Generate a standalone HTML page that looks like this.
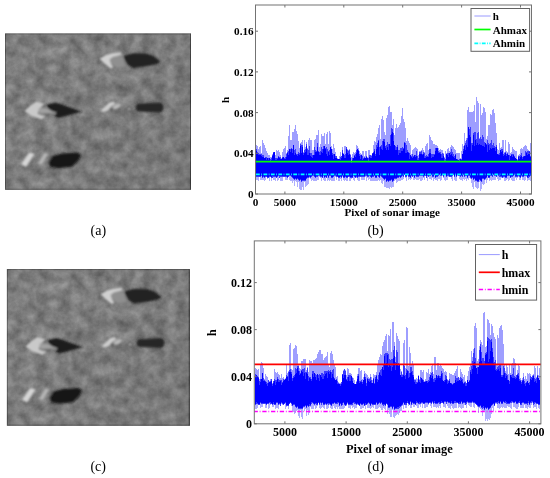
<!DOCTYPE html>
<html><head><meta charset="utf-8"><title>Sonar figure</title>
<style>
html,body{margin:0;padding:0;background:#fff;}
body{width:550px;height:478px;overflow:hidden;}
svg{display:block;}
</style></head><body>
<svg width="550" height="478" viewBox="0 0 550 478">
<rect width="550" height="478" fill="#fff"/>
<defs>
<filter id="tex" x="0" y="0" width="100%" height="100%" color-interpolation-filters="sRGB">
<feTurbulence type="fractalNoise" baseFrequency="0.085" numOctaves="4" seed="5"/>
<feColorMatrix type="matrix" values="0.3 0 0 0 0.345  0.3 0 0 0 0.345  0.3 0 0 0 0.345  0 0 0 0 1"/>
</filter>
<linearGradient id="shade" gradientUnits="userSpaceOnUse" x1="20" y1="40" x2="190" y2="190"><stop offset="0" stop-color="#000" stop-opacity="0"/><stop offset="1" stop-color="#000" stop-opacity="0.06"/></linearGradient>
<filter id="blur1" x="-20%" y="-20%" width="140%" height="140%"><feGaussianBlur stdDeviation="1.1"/></filter>
</defs>
<clipPath id="ca"><rect x="5" y="33.4" width="186" height="156.4"/></clipPath>
<clipPath id="cc"><rect x="5.9" y="33.6" width="183.1" height="156.6"/></clipPath>
<g clip-path="url(#ca)"><g id="scene">
<rect x="0" y="20" width="200" height="185" fill="#838383"/>
<rect x="0" y="20" width="200" height="185" filter="url(#tex)"/>
<rect x="0" y="20" width="200" height="185" fill="url(#shade)"/>
<g filter="url(#blur1)">
<polygon points="104,58 116,55.5 123,57 125.5,66 117,68" fill="#8f8f8f"/>
<polygon points="99.5,58.8 106,55 113,53 120.5,52.3 122,54.8 113,56.8 109.5,59.5 111,64 113.5,67.6 110.5,68.5 104.5,63.5" fill="#d0d0d0"/>
<polygon points="123.6,55.8 133,53.2 146,53.4 153.5,56 160.3,61.5 157.5,63.8 148.5,66 133.2,68 128.1,64.9 124.3,59" fill="#232323"/>
<polygon points="24.5,110.9 30.2,105.8 36.5,101.4 44.2,103.9 39.1,109 37.8,114.1 45.5,116.6 41.6,119.2 31.5,116" fill="#c9c9c9"/>
<polygon points="38.5,108 56.5,108.6 58.5,113 39.5,113.5" fill="#a0a0a0"/>
<polygon points="46.7,104.5 55.6,102.6 62,104.5 70.9,107.7 79.8,110.9 83.6,111.5 74.7,113.5 64.5,116.6 58.2,117.9 54.4,116 56.9,112.8 51.8,110.9 48,108.4" fill="#1f1f1f"/>
<polygon points="100.5,110.6 105,106.5 109,102.4 113.5,101.6 115.5,103.6 111.5,106.5 108,110.6 103.5,112.2" fill="#cdcdcd"/>
<polygon points="112.5,106.5 117.5,103.3 121.8,104.8 118,108.6 113.5,109.5" fill="#b9b9b9"/>
<circle cx="129.1" cy="109" r="1.3" fill="#b0b0b0"/>
<path d="M139,103.6 L160,102.4 Q164,103.3 163.6,107.5 Q163.2,112.6 159,112.6 L139.5,111.6 Q135.6,111 135.7,107.6 Q135.9,104.2 139,103.6 Z" fill="#262626"/>
<polygon points="21,164.2 29.3,152.6 34.6,154 26.2,166.8" fill="#d6d6d6"/>
<polygon points="37.8,163.5 44.3,152.8 48.4,153.8 41.8,165" fill="#b4b4b4"/>
<polygon points="47.2,163.6 51.5,155.5 53.3,156.1 49,164.3" fill="#5a5a5a"/>
<polygon points="48.8,162.5 52.8,156 62,153.6 77,152.5 81,155 78.5,160 72,166.8 58.5,168.3 50.5,166.8" fill="#161616"/>
</g></g><rect x="5.5" y="33.9" width="185" height="155.4" fill="none" stroke="#000" stroke-opacity="0.3" stroke-width="1"/><path d="M190.5 33.4V189.8" stroke="#000" stroke-opacity="0.2"/></g>
<g transform="translate(1 235.5)"><g clip-path="url(#cc)"><use href="#scene"/><rect x="6.4" y="34.1" width="182.1" height="155.6" fill="none" stroke="#000" stroke-opacity="0.3" stroke-width="1"/><path d="M188 33.6V190.2" stroke="#000" stroke-opacity="0.25"/></g></g>
<path d="M256.5 175.5V180.1M257.5 175.5V180.1M258.5 175.9V180.9M259.5 175.7V176.4M260.5 175.7V179.5M261.5 175.3V180.3M262.5 176.8V179.8M263.5 175.5V180.0M264.5 177.1V181.2M265.5 176.2V179.8M266.5 175.7V176.6M267.5 176.7V178.6M268.5 176.6V177.5M269.5 175.6V181.0M270.5 175.9V176.6M271.5 177.1V181.1M272.5 176.4V177.0M273.5 176.4V180.3M274.5 175.7V180.4M275.5 175.8V180.9M276.5 177.0V178.4M277.5 175.8V180.7M278.5 175.4V179.6M279.5 176.4V177.0M280.5 176.0V180.7M281.5 175.7V180.5M282.5 175.8V180.5M283.5 175.6V177.2M284.5 175.8V177.1M285.5 176.0V180.3M286.5 176.4V180.1M287.5 177.4V179.9M288.5 175.7V177.2M289.5 175.0V179.5M290.5 175.2V180.5M291.5 176.3V181.2M292.5 176.8V182.9M293.5 177.6V180.7M294.5 178.6V185.6M295.5 178.0V181.3M296.5 178.7V181.9M297.5 178.0V186.6M298.5 179.4V182.4M299.5 180.4V189.4M300.5 179.0V190.3M301.5 180.6V190.4M302.5 179.7V186.9M303.5 179.8V189.8M304.5 180.0V181.5M305.5 179.8V187.4M306.5 177.8V186.4M307.5 177.2V185.0M308.5 177.2V184.4M309.5 175.7V178.2M310.5 177.0V178.9M311.5 175.9V181.0M312.5 175.2V180.4M313.5 175.0V180.9M314.5 176.4V181.0M315.5 177.1V180.8M316.5 176.0V181.1M317.5 176.4V180.0M318.5 175.0V180.1M319.5 175.3V176.9M320.5 176.1V178.4M321.5 175.7V181.1M322.5 176.7V178.4M323.5 175.2V179.9M324.5 176.8V180.5M325.5 176.0V181.1M326.5 177.4V178.4M327.5 175.2V180.7M328.5 176.6V180.4M329.5 175.1V181.1M330.5 175.4V180.3M331.5 177.0V180.6M332.5 177.3V180.9M333.5 176.3V180.5M334.5 175.1V180.5M335.5 175.1V176.6M336.5 176.3V180.4M337.5 175.8V176.9M338.5 177.1V180.9M339.5 177.0V180.9M340.5 176.2V178.5M341.5 177.1V180.9M342.5 175.3V177.4M343.5 177.0V180.0M344.5 177.1V180.9M345.5 176.0V179.9M346.5 177.1V180.6M347.5 176.6V180.8M348.5 175.5V177.2M349.5 176.0V180.7M350.5 176.6V181.1M351.5 176.8V178.8M352.5 176.7V177.6M353.5 175.1V179.8M354.5 176.4V180.5M355.5 176.8V177.4M356.5 175.7V177.7M357.5 176.6V180.4M358.5 175.6V180.5M359.5 176.3V181.1M360.5 176.4V177.3M361.5 175.5V180.3M362.5 176.3V179.8M363.5 176.3V180.0M364.5 175.7V180.3M365.5 175.2V177.3M366.5 175.3V180.6M367.5 176.2V178.3M368.5 176.1V179.5M369.5 175.0V179.4M370.5 175.6V181.1M371.5 177.4V181.0M372.5 176.4V180.5M373.5 176.2V180.7M374.5 175.4V180.9M375.5 177.4V181.0M376.5 176.5V180.8M377.5 175.0V180.6M378.5 176.4V180.1M379.5 176.8V180.6M380.5 175.0V179.8M381.5 175.6V183.0M382.5 177.4V184.0M383.5 178.2V180.6M384.5 178.5V186.6M385.5 177.9V187.3M386.5 180.5V187.6M387.5 179.6V187.5M388.5 180.8V188.3M389.5 180.4V189.3M390.5 180.2V186.5M391.5 179.3V188.3M392.5 180.6V186.6M393.5 180.2V187.2M394.5 178.3V181.4M395.5 178.1V179.8M396.5 178.2V183.3M397.5 176.5V182.1M398.5 176.7V180.5M399.5 175.8V181.1M400.5 177.1V181.2M401.5 175.8V180.3M402.5 174.7V180.0M403.5 176.0V179.4M404.5 174.2V175.0M405.5 175.6V177.7M406.5 175.6V180.6M407.5 174.3V176.0M408.5 176.0V179.8M409.5 175.8V179.4M410.5 176.5V180.3M411.5 174.8V178.7M412.5 176.1V176.6M413.5 175.3V180.4M414.5 176.6V179.8M415.5 175.0V179.4M416.5 175.8V179.6M417.5 175.6V179.9M418.5 176.0V180.3M419.5 174.6V178.6M420.5 175.2V180.5M421.5 175.2V180.6M422.5 174.7V180.2M423.5 176.1V177.9M424.5 174.8V180.4M425.5 174.7V175.4M426.5 176.4V178.1M427.5 174.4V180.6M428.5 175.6V177.4M429.5 175.1V179.3M430.5 174.7V179.3M431.5 174.2V180.1M432.5 175.9V177.5M433.5 175.9V180.7M434.5 174.4V179.2M435.5 176.6V180.2M436.5 175.8V180.1M437.5 176.3V180.8M438.5 174.7V179.0M439.5 174.4V178.9M440.5 174.6V180.8M441.5 174.6V179.5M442.5 174.3V176.1M443.5 176.2V177.8M444.5 174.1V180.4M445.5 174.3V180.8M446.5 176.0V180.4M447.5 175.3V179.6M448.5 175.3V176.5M449.5 176.1V176.6M450.5 175.9V177.1M451.5 176.0V179.3M452.5 175.0V180.6M453.5 174.3V175.3M454.5 176.3V180.4M455.5 174.2V180.6M456.5 175.9V180.6M457.5 174.4V175.8M458.5 175.1V176.4M459.5 175.1V178.9M460.5 175.6V179.7M461.5 174.8V179.8M462.5 176.0V180.7M463.5 174.3V179.4M464.5 176.0V179.5M465.5 174.8V179.3M466.5 174.6V180.9M467.5 176.5V178.6M468.5 174.8V180.2M469.5 174.9V177.9M470.5 177.4V178.8M471.5 178.1V183.1M472.5 177.3V186.7M473.5 179.2V188.7M474.5 178.2V182.1M475.5 180.0V186.9M476.5 180.2V188.4M477.5 180.7V188.8M478.5 181.3V188.4M479.5 179.2V182.3M480.5 179.5V190.8M481.5 181.0V188.7M482.5 178.4V183.5M483.5 178.0V185.4M484.5 178.9V184.3M485.5 177.9V180.3M486.5 177.3V182.8M487.5 175.1V179.7M488.5 176.5V177.7M489.5 176.5V181.0M490.5 174.5V180.3M491.5 174.9V180.5M492.5 175.6V180.2M493.5 174.2V179.8M494.5 175.3V180.3M495.5 174.9V179.7M496.5 176.2V177.2M497.5 174.3V178.9M498.5 174.9V180.6M499.5 175.4V179.9M500.5 175.9V179.7M501.5 176.0V177.6M502.5 176.5V177.0M503.5 176.0V178.1M504.5 175.5V180.5M505.5 176.5V181.2M506.5 176.7V179.7M507.5 174.5V178.9M508.5 174.7V180.9M509.5 174.9V179.5M510.5 176.7V178.3M511.5 175.7V179.9M512.5 175.7V181.0M513.5 175.3V181.2M514.5 174.4V180.5M515.5 176.1V177.9M516.5 176.0V180.3M517.5 176.1V178.3M518.5 174.6V176.8M519.5 175.8V179.9M520.5 176.5V180.4M521.5 175.3V177.2M522.5 175.5V179.8M523.5 176.4V180.0M524.5 175.4V180.5M525.5 175.0V180.4M526.5 175.3V177.4M527.5 176.7V180.7M528.5 176.4V180.0M529.5 176.1V179.7M530.5 175.0V180.6" stroke="#aeaeff" stroke-width="1" fill="none" shape-rendering="crispEdges"/>
<path d="M256.5 145.2V176.5M257.5 146.1V176.5M258.5 148.5V176.9M259.5 147.1V176.7M260.5 145.7V176.7M261.5 153.3V176.3M262.5 140.4V177.8M263.5 142.7V176.5M264.5 144.8V178.1M265.5 148.4V177.2M266.5 151.0V176.7M267.5 152.7V177.7M268.5 154.6V177.6M269.5 155.1V176.6M270.5 156.8V176.9M271.5 157.1V178.1M272.5 154.1V177.4M273.5 152.1V177.4M274.5 151.6V176.7M275.5 155.2V176.8M276.5 149.6V178.0M277.5 151.3V176.8M278.5 149.9V176.4M279.5 151.7V177.4M280.5 155.0V177.0M281.5 157.5V176.7M282.5 152.0V176.8M283.5 149.3V176.6M284.5 148.3V176.8M285.5 146.1V177.0M286.5 153.3V177.4M287.5 150.4V178.4M288.5 135.8V176.7M289.5 125.2V176.0M290.5 139.6V176.2M291.5 140.2V177.3M292.5 132.2V177.8M293.5 131.7V178.6M294.5 129.2V179.6M295.5 125.3V179.0M296.5 130.5V179.7M297.5 133.7V179.0M298.5 140.6V180.4M299.5 147.9V181.4M300.5 142.8V180.0M301.5 142.3V181.6M302.5 139.6V180.7M303.5 151.8V180.8M304.5 139.9V181.0M305.5 146.6V180.8M306.5 142.1V178.8M307.5 148.1V178.2M308.5 140.3V178.2M309.5 138.0V176.7M310.5 140.0V178.0M311.5 140.1V176.9M312.5 149.5V176.2M313.5 149.5V176.0M314.5 139.8V177.4M315.5 138.5V178.1M316.5 135.0V177.0M317.5 135.1V177.4M318.5 129.8V176.0M319.5 146.7V176.3M320.5 143.7V177.1M321.5 134.0V176.7M322.5 135.7V177.7M323.5 136.1V176.2M324.5 132.9V177.8M325.5 143.5V177.0M326.5 134.0V178.4M327.5 132.2V176.2M328.5 144.4V177.6M329.5 130.5V176.1M330.5 133.0V176.4M331.5 146.2V178.0M332.5 149.3V178.3M333.5 144.2V177.3M334.5 148.3V176.1M335.5 152.1V176.1M336.5 155.7V177.3M337.5 158.4V176.8M338.5 158.7V178.1M339.5 155.5V178.0M340.5 151.7V177.2M341.5 155.7V178.1M342.5 146.7V176.3M343.5 152.6V178.0M344.5 146.3V178.1M345.5 145.6V177.0M346.5 147.1V178.1M347.5 149.1V177.6M348.5 150.0V176.5M349.5 148.9V177.0M350.5 153.7V177.6M351.5 156.7V177.8M352.5 153.6V177.7M353.5 151.6V176.1M354.5 152.7V177.4M355.5 151.5V177.8M356.5 145.4V176.7M357.5 145.6V177.6M358.5 148.1V176.6M359.5 150.9V177.3M360.5 152.5V177.4M361.5 153.5V176.5M362.5 151.2V177.3M363.5 150.7V177.3M364.5 156.1V176.7M365.5 151.3V176.2M366.5 151.2V176.3M367.5 156.7V177.2M368.5 150.1V177.1M369.5 149.9V176.0M370.5 154.8V176.6M371.5 154.6V178.4M372.5 152.5V177.4M373.5 145.4V177.2M374.5 141.4V176.4M375.5 141.9V178.4M376.5 137.2V177.5M377.5 133.7V176.0M378.5 128.3V177.4M379.5 124.6V177.8M380.5 138.9V176.0M381.5 118.8V176.6M382.5 116.2V178.4M383.5 120.1V179.2M384.5 132.4V179.5M385.5 134.7V178.9M386.5 118.4V181.5M387.5 114.8V180.6M388.5 106.5V181.8M389.5 106.0V181.4M390.5 111.9V181.2M391.5 111.9V180.3M392.5 125.0V181.6M393.5 119.2V181.2M394.5 135.2V179.3M395.5 127.7V179.1M396.5 123.9V179.2M397.5 127.7V177.5M398.5 126.9V177.7M399.5 125.1V176.8M400.5 122.6V178.1M401.5 115.9V176.8M402.5 108.3V175.7M403.5 119.1V177.0M404.5 122.1V175.2M405.5 127.5V176.6M406.5 140.5V176.6M407.5 137.8V175.3M408.5 141.3V177.0M409.5 142.8V176.8M410.5 145.1V177.5M411.5 154.1V175.8M412.5 149.5V177.1M413.5 149.3V176.3M414.5 147.7V177.6M415.5 147.2V176.0M416.5 148.0V176.8M417.5 149.4V176.6M418.5 155.2V177.0M419.5 151.2V175.6M420.5 150.8V176.2M421.5 150.4V176.2M422.5 148.1V175.7M423.5 150.3V177.1M424.5 152.3V175.8M425.5 146.1V175.7M426.5 143.6V177.4M427.5 143.0V175.4M428.5 149.5V176.6M429.5 135.2V176.1M430.5 136.5V175.7M431.5 140.4V175.2M432.5 141.1V176.9M433.5 144.4V176.9M434.5 144.3V175.4M435.5 144.5V177.6M436.5 145.1V176.8M437.5 146.1V177.3M438.5 147.5V175.7M439.5 150.3V175.4M440.5 148.5V175.6M441.5 149.8V175.6M442.5 150.3V175.3M443.5 153.0V177.2M444.5 156.5V175.1M445.5 150.5V175.3M446.5 153.0V177.0M447.5 149.2V176.3M448.5 147.5V176.3M449.5 150.6V177.1M450.5 146.8V176.9M451.5 144.8V177.0M452.5 146.2V176.0M453.5 147.4V175.3M454.5 149.1V177.3M455.5 150.3V175.2M456.5 153.0V176.9M457.5 152.7V175.4M458.5 153.0V176.1M459.5 153.1V176.1M460.5 158.3V176.6M461.5 151.1V175.8M462.5 144.3V177.0M463.5 145.7V175.3M464.5 132.7V177.0M465.5 141.0V175.8M466.5 138.3V175.6M467.5 109.7V177.5M468.5 106.6V175.8M469.5 112.1V175.9M470.5 112.4V178.4M471.5 111.5V179.1M472.5 112.2V178.3M473.5 110.5V180.2M474.5 105.4V179.2M475.5 122.2V181.0M476.5 97.3V181.2M477.5 100.5V181.7M478.5 102.8V182.3M479.5 138.0V180.2M480.5 103.8V180.5M481.5 114.6V182.0M482.5 112.7V179.4M483.5 107.1V179.0M484.5 108.3V179.9M485.5 111.8V178.9M486.5 139.3V178.3M487.5 135.9V176.1M488.5 125.4V177.5M489.5 124.6V177.5M490.5 113.7V175.5M491.5 115.2V175.9M492.5 109.7V176.6M493.5 108.7V175.2M494.5 112.7V176.3M495.5 122.8V175.9M496.5 132.8V177.2M497.5 149.3V175.3M498.5 150.0V175.9M499.5 142.7V176.4M500.5 147.5V176.9M501.5 146.7V177.0M502.5 139.7V177.5M503.5 140.1V177.0M504.5 151.5V176.5M505.5 140.4V177.5M506.5 151.4V177.7M507.5 151.8V175.5M508.5 142.0V175.7M509.5 144.2V175.9M510.5 153.2V177.7M511.5 152.0V176.7M512.5 146.9V176.7M513.5 149.0V176.3M514.5 150.0V175.4M515.5 150.8V177.1M516.5 151.0V177.0M517.5 158.9V177.1M518.5 154.9V175.6M519.5 154.4V176.8M520.5 149.2V177.5M521.5 147.8V176.3M522.5 149.2V176.5M523.5 146.8V177.4M524.5 145.6V176.4M525.5 144.6V176.0M526.5 145.6V176.3M527.5 148.8V177.7M528.5 150.2V177.4M529.5 151.1V177.1M530.5 143.2V176.0" stroke="#9e9eff" stroke-width="1" fill="none" shape-rendering="crispEdges"/>
<path d="M256.5 149.3V176.5M257.5 151.7V176.6M258.5 153.1V176.9M259.5 153.6V176.7M260.5 153.8V176.7M261.5 153.9V176.3M262.5 155.1V177.8M263.5 154.5V176.5M264.5 157.6V178.1M265.5 156.6V177.2M266.5 156.8V176.7M267.5 158.1V177.7M268.5 157.5V177.6M269.5 157.9V176.7M270.5 158.6V176.9M271.5 157.9V178.2M272.5 154.8V177.5M273.5 152.4V177.4M274.5 152.0V176.7M275.5 157.6V176.8M276.5 158.2V178.0M277.5 157.9V176.8M278.5 155.6V176.4M279.5 157.1V177.5M280.5 156.6V177.0M281.5 158.5V176.7M282.5 157.4V176.8M283.5 156.6V176.6M284.5 158.4V176.8M285.5 157.0V177.0M286.5 154.1V177.4M287.5 152.2V178.4M288.5 150.6V176.7M289.5 148.7V176.1M290.5 148.5V176.2M291.5 148.2V177.3M292.5 149.1V177.8M293.5 144.7V178.6M294.5 149.5V179.6M295.5 148.8V179.0M296.5 154.2V179.7M297.5 154.0V179.0M298.5 151.8V180.4M299.5 153.1V181.4M300.5 144.2V180.0M301.5 144.7V181.6M302.5 144.6V180.8M303.5 153.4V180.8M304.5 149.6V181.0M305.5 149.0V180.8M306.5 143.8V178.9M307.5 148.8V178.2M308.5 149.5V178.3M309.5 146.4V176.7M310.5 153.0V178.1M311.5 153.4V176.9M312.5 154.8V176.2M313.5 154.9V176.0M314.5 147.3V177.4M315.5 149.8V178.2M316.5 150.6V177.0M317.5 143.2V177.4M318.5 150.7V176.0M319.5 151.7V176.4M320.5 151.0V177.1M321.5 147.2V176.7M322.5 148.6V177.7M323.5 146.1V176.2M324.5 145.7V177.9M325.5 147.9V177.1M326.5 147.4V178.4M327.5 149.0V176.2M328.5 150.5V177.6M329.5 149.5V176.2M330.5 146.9V176.4M331.5 148.8V178.1M332.5 153.1V178.3M333.5 153.7V177.3M334.5 154.2V176.2M335.5 155.8V176.1M336.5 156.4V177.3M337.5 158.5V176.9M338.5 158.9V178.2M339.5 158.8V178.0M340.5 156.6V177.2M341.5 155.9V178.1M342.5 150.4V176.3M343.5 154.3V178.0M344.5 155.1V178.1M345.5 154.4V177.0M346.5 147.2V178.1M347.5 150.0V177.6M348.5 151.2V176.5M349.5 150.4V177.0M350.5 154.9V177.6M351.5 161.8V177.8M352.5 158.2V177.8M353.5 157.8V176.1M354.5 154.7V177.4M355.5 154.1V177.9M356.5 149.5V176.7M357.5 148.7V177.6M358.5 149.6V176.6M359.5 153.9V177.3M360.5 155.0V177.4M361.5 155.1V176.5M362.5 155.5V177.3M363.5 157.7V177.3M364.5 156.5V176.7M365.5 157.9V176.2M366.5 155.8V176.3M367.5 158.1V177.2M368.5 158.3V177.1M369.5 155.4V176.0M370.5 155.0V176.6M371.5 155.6V178.4M372.5 153.2V177.4M373.5 151.9V177.2M374.5 149.0V176.4M375.5 153.8V178.4M376.5 144.8V177.5M377.5 142.7V176.0M378.5 140.1V177.4M379.5 146.6V177.8M380.5 145.7V176.0M381.5 144.8V176.6M382.5 141.2V178.4M383.5 138.7V179.2M384.5 138.9V179.5M385.5 145.6V178.9M386.5 144.8V181.5M387.5 142.3V180.6M388.5 143.5V181.8M389.5 143.7V181.4M390.5 134.6V181.2M391.5 128.2V180.3M392.5 129.1V181.6M393.5 132.9V181.2M394.5 144.9V179.3M395.5 146.4V179.1M396.5 147.2V179.2M397.5 145.0V177.5M398.5 150.2V177.7M399.5 149.5V176.8M400.5 148.0V178.1M401.5 147.5V176.8M402.5 147.1V175.7M403.5 147.7V177.0M404.5 141.9V175.2M405.5 143.4V176.6M406.5 144.5V176.6M407.5 149.7V175.3M408.5 151.9V177.0M409.5 152.8V176.8M410.5 155.0V177.5M411.5 156.2V175.8M412.5 153.9V177.1M413.5 156.4V176.3M414.5 155.1V177.6M415.5 154.9V176.0M416.5 150.5V176.8M417.5 156.4V176.6M418.5 157.8V177.1M419.5 152.4V175.6M420.5 152.1V176.2M421.5 151.1V176.2M422.5 153.9V175.7M423.5 152.2V177.1M424.5 153.2V175.8M425.5 156.1V175.7M426.5 154.6V177.5M427.5 156.0V175.5M428.5 154.4V176.7M429.5 148.6V176.1M430.5 148.9V175.7M431.5 154.4V175.2M432.5 154.3V176.9M433.5 153.8V176.9M434.5 154.4V175.4M435.5 148.1V177.6M436.5 147.6V176.8M437.5 148.2V177.3M438.5 150.7V175.7M439.5 152.1V175.4M440.5 151.9V175.6M441.5 153.5V175.6M442.5 153.3V175.3M443.5 153.5V177.2M444.5 157.8V175.2M445.5 158.8V175.3M446.5 153.5V177.1M447.5 153.4V176.3M448.5 153.0V176.3M449.5 152.6V177.1M450.5 151.5V176.9M451.5 149.4V177.0M452.5 151.9V176.0M453.5 153.8V175.3M454.5 155.5V177.3M455.5 153.9V175.2M456.5 159.3V176.9M457.5 158.6V175.4M458.5 160.0V176.2M459.5 158.8V176.2M460.5 158.5V176.6M461.5 159.4V175.8M462.5 153.6V177.0M463.5 149.0V175.3M464.5 144.6V177.0M465.5 142.5V175.8M466.5 140.3V175.7M467.5 138.3V177.5M468.5 126.8V175.9M469.5 128.5V175.9M470.5 127.4V178.4M471.5 142.7V179.1M472.5 142.9V178.4M473.5 132.5V180.2M474.5 132.1V179.2M475.5 132.1V181.0M476.5 139.3V181.2M477.5 132.7V181.7M478.5 131.8V182.3M479.5 138.9V180.3M480.5 137.4V180.5M481.5 139.1V182.0M482.5 135.0V179.4M483.5 136.5V179.0M484.5 142.0V179.9M485.5 143.3V178.9M486.5 144.4V178.3M487.5 140.1V176.2M488.5 142.9V177.5M489.5 143.5V177.5M490.5 142.8V175.5M491.5 140.4V175.9M492.5 144.8V176.7M493.5 142.7V175.2M494.5 145.7V176.4M495.5 146.6V175.9M496.5 145.1V177.2M497.5 153.9V175.3M498.5 153.9V175.9M499.5 153.4V176.5M500.5 149.5V176.9M501.5 149.4V177.0M502.5 148.5V177.5M503.5 153.7V177.0M504.5 152.5V176.5M505.5 152.1V177.5M506.5 153.9V177.7M507.5 153.3V175.5M508.5 154.5V175.7M509.5 155.2V176.0M510.5 156.4V177.8M511.5 153.6V176.7M512.5 154.0V176.7M513.5 154.1V176.3M514.5 155.5V175.4M515.5 157.7V177.1M516.5 159.0V177.0M517.5 159.9V177.1M518.5 156.2V175.6M519.5 155.9V176.8M520.5 155.2V177.6M521.5 153.4V176.3M522.5 157.4V176.5M523.5 155.5V177.4M524.5 155.8V176.4M525.5 150.6V176.0M526.5 151.7V176.3M527.5 151.2V177.7M528.5 150.9V177.5M529.5 151.2V177.1M530.5 155.7V176.0" stroke="#3a3aff" stroke-width="1" fill="none" shape-rendering="crispEdges"/>
<path d="M256.5 150.9V175.5M257.5 152.9V175.5M258.5 155.2V175.9M259.5 155.1V175.7M260.5 154.7V175.7M261.5 156.0V175.3M262.5 156.7V176.8M263.5 156.6V175.5M264.5 157.6V177.1M265.5 157.5V176.2M266.5 159.7V175.7M267.5 158.1V176.7M268.5 159.9V176.6M269.5 157.9V175.6M270.5 160.9V175.9M271.5 159.5V177.1M272.5 156.1V176.4M273.5 152.5V176.4M274.5 152.0V175.7M275.5 160.3V175.8M276.5 160.1V177.0M277.5 158.6V175.8M278.5 156.5V175.4M279.5 158.2V176.4M280.5 159.0V176.0M281.5 159.0V175.7M282.5 158.4V175.8M283.5 156.6V175.6M284.5 158.9V175.8M285.5 158.8V176.0M286.5 156.6V176.4M287.5 153.2V177.4M288.5 154.9V175.7M289.5 149.3V175.0M290.5 152.4V175.2M291.5 148.8V176.3M292.5 153.1V176.8M293.5 144.7V177.6M294.5 154.6V178.6M295.5 152.7V178.0M296.5 154.5V178.7M297.5 156.3V178.0M298.5 153.5V179.4M299.5 155.2V180.4M300.5 146.0V179.0M301.5 152.9V180.6M302.5 147.2V179.7M303.5 154.8V179.8M304.5 152.6V180.0M305.5 152.4V179.8M306.5 146.0V177.8M307.5 155.1V177.2M308.5 154.9V177.2M309.5 153.3V175.7M310.5 155.5V177.0M311.5 156.7V175.9M312.5 157.6V175.2M313.5 154.9V175.0M314.5 154.5V176.4M315.5 152.0V177.1M316.5 152.4V176.0M317.5 147.4V176.4M318.5 152.2V175.0M319.5 155.4V175.3M320.5 155.4V176.1M321.5 151.7V175.7M322.5 153.4V176.7M323.5 149.4V175.2M324.5 145.8V176.8M325.5 148.6V176.0M326.5 154.1V177.4M327.5 156.2V175.2M328.5 151.5V176.6M329.5 154.8V175.1M330.5 147.0V175.4M331.5 149.0V177.0M332.5 154.7V177.3M333.5 158.9V176.3M334.5 154.2V175.1M335.5 158.2V175.1M336.5 158.4V176.3M337.5 158.7V175.8M338.5 159.4V177.1M339.5 158.8V177.0M340.5 159.5V176.2M341.5 157.5V177.1M342.5 153.4V175.3M343.5 154.3V177.0M344.5 157.7V177.1M345.5 157.8V176.0M346.5 149.4V177.1M347.5 152.8V176.6M348.5 154.5V175.5M349.5 153.8V176.0M350.5 158.0V176.6M351.5 162.9V176.8M352.5 160.1V176.7M353.5 157.8V175.1M354.5 156.0V176.4M355.5 156.9V176.8M356.5 153.3V175.7M357.5 148.8V176.6M358.5 150.8V175.6M359.5 155.8V176.3M360.5 159.0V176.4M361.5 155.4V175.5M362.5 159.5V176.3M363.5 159.4V176.3M364.5 157.7V175.7M365.5 157.9V175.2M366.5 156.8V175.3M367.5 158.1V176.2M368.5 160.8V176.1M369.5 157.1V175.0M370.5 157.5V175.6M371.5 158.0V177.4M372.5 154.2V176.4M373.5 152.6V176.2M374.5 150.7V175.4M375.5 155.5V177.4M376.5 148.7V176.5M377.5 146.7V175.0M378.5 141.4V176.4M379.5 155.1V176.8M380.5 146.6V175.0M381.5 149.2V175.6M382.5 149.8V177.4M383.5 141.3V178.2M384.5 141.8V178.5M385.5 148.1V177.9M386.5 150.0V180.5M387.5 146.8V179.6M388.5 149.5V180.8M389.5 144.3V180.4M390.5 145.8V180.2M391.5 134.0V179.3M392.5 132.4V180.6M393.5 140.9V180.2M394.5 145.4V178.3M395.5 149.6V178.1M396.5 150.3V178.2M397.5 146.7V176.5M398.5 155.0V176.7M399.5 153.1V175.8M400.5 152.5V177.1M401.5 150.6V175.8M402.5 151.2V174.7M403.5 149.4V176.0M404.5 143.3V174.2M405.5 153.0V175.6M406.5 153.0V175.6M407.5 151.6V174.3M408.5 153.1V176.0M409.5 158.5V175.8M410.5 155.3V176.5M411.5 156.9V174.8M412.5 158.3V176.1M413.5 156.6V175.3M414.5 155.4V176.6M415.5 157.3V175.0M416.5 156.2V175.8M417.5 159.5V175.6M418.5 159.5V176.0M419.5 154.0V174.6M420.5 154.4V175.2M421.5 153.6V175.2M422.5 155.2V174.7M423.5 154.0V176.1M424.5 158.3V174.8M425.5 157.8V174.7M426.5 156.9V176.4M427.5 156.8V174.4M428.5 156.7V175.6M429.5 153.1V175.1M430.5 152.8V174.7M431.5 157.5V174.2M432.5 156.6V175.9M433.5 157.3V175.9M434.5 155.0V174.4M435.5 150.8V176.6M436.5 148.0V175.8M437.5 148.2V176.3M438.5 153.2V174.7M439.5 153.2V174.4M440.5 153.9V174.6M441.5 158.3V174.6M442.5 158.1V174.3M443.5 155.7V176.2M444.5 161.0V174.1M445.5 161.0V174.3M446.5 154.4V176.0M447.5 155.4V175.3M448.5 157.4V175.3M449.5 153.1V176.1M450.5 155.3V175.9M451.5 153.8V176.0M452.5 155.8V175.0M453.5 156.9V174.3M454.5 157.7V176.3M455.5 155.4V174.2M456.5 159.3V175.9M457.5 159.6V174.4M458.5 160.0V175.1M459.5 161.0V175.1M460.5 158.9V175.6M461.5 160.1V174.8M462.5 154.1V176.0M463.5 151.2V174.3M464.5 146.0V176.0M465.5 150.2V174.8M466.5 144.9V174.6M467.5 146.9V176.5M468.5 127.4V174.8M469.5 135.4V174.9M470.5 136.6V177.4M471.5 150.7V178.1M472.5 145.2V177.3M473.5 134.7V179.2M474.5 145.8V178.2M475.5 140.1V180.0M476.5 145.2V180.2M477.5 143.2V180.7M478.5 144.9V181.3M479.5 144.1V179.2M480.5 145.3V179.5M481.5 145.2V181.0M482.5 145.9V178.4M483.5 145.6V178.0M484.5 146.6V178.9M485.5 143.3V177.9M486.5 144.7V177.3M487.5 151.5V175.1M488.5 144.8V176.5M489.5 149.7V176.5M490.5 147.5V174.5M491.5 149.1V174.9M492.5 147.8V175.6M493.5 148.2V174.2M494.5 148.1V175.3M495.5 151.0V174.9M496.5 146.5V176.2M497.5 153.9V174.3M498.5 155.0V174.9M499.5 155.2V175.4M500.5 150.4V175.9M501.5 152.3V176.0M502.5 150.6V176.5M503.5 156.2V176.0M504.5 154.9V175.5M505.5 152.5V176.5M506.5 156.2V176.7M507.5 154.4V174.5M508.5 154.8V174.7M509.5 159.5V174.9M510.5 156.4V176.7M511.5 154.8V175.7M512.5 156.9V175.7M513.5 155.3V175.3M514.5 157.2V174.4M515.5 158.1V176.1M516.5 159.0V176.0M517.5 160.5V176.1M518.5 156.9V174.6M519.5 158.9V175.8M520.5 156.9V176.5M521.5 156.3V175.3M522.5 158.6V175.5M523.5 157.0V176.4M524.5 156.2V175.4M525.5 156.2V175.0M526.5 153.4V175.3M527.5 154.5V176.7M528.5 154.4V176.4M529.5 152.2V176.1M530.5 157.4V175.0" stroke="#0000ff" stroke-width="1" fill="none" shape-rendering="crispEdges"/>
<path d="M255.5 161.6H531.5" stroke="#00ff00" stroke-width="1.7"/>
<path d="M255.5 174.3H531.5" stroke="#00ffff" stroke-width="1.8" stroke-dasharray="3.8 1.45 0.8 1.4" stroke-dashoffset="6.95"/>
<rect x="255.5" y="5.0" width="276.0" height="189.0" fill="none" stroke="#737373" stroke-width="1"/>
<path d="M255.5 194.0h2.5M531.5 194.0h-2.5" stroke="#737373" stroke-width="1"/>
<text x="253.7" y="198.0" text-anchor="end" font-size="11.2" font-family="'Liberation Serif', 'Times New Roman', serif" font-weight="bold">0</text>
<path d="M255.5 153.3h2.5M531.5 153.3h-2.5" stroke="#737373" stroke-width="1"/>
<text x="253.7" y="157.3" text-anchor="end" font-size="11.2" font-family="'Liberation Serif', 'Times New Roman', serif" font-weight="bold">0.04</text>
<path d="M255.5 112.6h2.5M531.5 112.6h-2.5" stroke="#737373" stroke-width="1"/>
<text x="253.7" y="116.6" text-anchor="end" font-size="11.2" font-family="'Liberation Serif', 'Times New Roman', serif" font-weight="bold">0.08</text>
<path d="M255.5 71.9h2.5M531.5 71.9h-2.5" stroke="#737373" stroke-width="1"/>
<text x="253.7" y="75.9" text-anchor="end" font-size="11.2" font-family="'Liberation Serif', 'Times New Roman', serif" font-weight="bold">0.12</text>
<path d="M255.5 31.2h2.5M531.5 31.2h-2.5" stroke="#737373" stroke-width="1"/>
<text x="253.7" y="35.2" text-anchor="end" font-size="11.2" font-family="'Liberation Serif', 'Times New Roman', serif" font-weight="bold">0.16</text>
<path d="M255.5 194.0v-2.5M255.5 5.0v2.5" stroke="#737373" stroke-width="1"/>
<text x="255.5" y="205.5" text-anchor="middle" font-size="11.2" font-family="'Liberation Serif', 'Times New Roman', serif" font-weight="bold">0</text>
<path d="M284.9 194.0v-2.5M284.9 5.0v2.5" stroke="#737373" stroke-width="1"/>
<text x="284.9" y="205.5" text-anchor="middle" font-size="11.2" font-family="'Liberation Serif', 'Times New Roman', serif" font-weight="bold">5000</text>
<path d="M343.8 194.0v-2.5M343.8 5.0v2.5" stroke="#737373" stroke-width="1"/>
<text x="343.8" y="205.5" text-anchor="middle" font-size="11.2" font-family="'Liberation Serif', 'Times New Roman', serif" font-weight="bold">15000</text>
<path d="M402.7 194.0v-2.5M402.7 5.0v2.5" stroke="#737373" stroke-width="1"/>
<text x="402.7" y="205.5" text-anchor="middle" font-size="11.2" font-family="'Liberation Serif', 'Times New Roman', serif" font-weight="bold">25000</text>
<path d="M461.6 194.0v-2.5M461.6 5.0v2.5" stroke="#737373" stroke-width="1"/>
<text x="461.6" y="205.5" text-anchor="middle" font-size="11.2" font-family="'Liberation Serif', 'Times New Roman', serif" font-weight="bold">35000</text>
<path d="M520.5 194.0v-2.5M520.5 5.0v2.5" stroke="#737373" stroke-width="1"/>
<text x="520.5" y="205.5" text-anchor="middle" font-size="11.2" font-family="'Liberation Serif', 'Times New Roman', serif" font-weight="bold">45000</text>
<rect x="471.0" y="8.5" width="58.60000000000002" height="42.8" fill="#fff" stroke="#626262" stroke-width="1"/>
<path d="M474.4 16H490.6" stroke="#9a9aff" stroke-width="1"/>
<text x="492.7" y="20.0" font-size="11" font-family="'Liberation Serif', 'Times New Roman', serif" font-weight="bold">h</text>
<path d="M474.4 29.5H490.6" stroke="#00ff00" stroke-width="1.7"/>
<text x="492.7" y="33.5" font-size="11" font-family="'Liberation Serif', 'Times New Roman', serif" font-weight="bold">Ahmax</text>
<path d="M474.4 43.4H490.6" stroke="#00ffff" stroke-width="1.8" stroke-dasharray="3.8 1.45 0.8 1.4"/>
<text x="492.7" y="47.4" font-size="11" font-family="'Liberation Serif', 'Times New Roman', serif" font-weight="bold">Ahmin</text>
<text x="392.2" y="216.4" text-anchor="middle" font-size="11.1" font-family="'Liberation Serif', 'Times New Roman', serif" font-weight="bold">Pixel of sonar image</text>
<text transform="translate(229.1 99.9) rotate(-90)" text-anchor="middle" font-size="11.2" font-family="'Liberation Serif', 'Times New Roman', serif" font-weight="bold">h</text>
<path d="M255.5 404.2V408.8M256.5 402.4V408.5M257.5 402.5V407.5M258.5 403.8V405.3M259.5 403.9V405.4M260.5 401.8V407.9M261.5 403.1V407.4M262.5 403.2V407.1M263.5 402.7V403.9M264.5 402.5V403.3M265.5 402.5V408.0M266.5 403.7V408.0M267.5 403.2V403.8M268.5 402.8V408.8M269.5 402.1V408.0M270.5 402.4V405.1M271.5 402.6V403.9M272.5 403.6V407.4M273.5 402.4V406.9M274.5 403.6V404.7M275.5 404.0V408.9M276.5 401.7V407.8M277.5 402.0V407.5M278.5 403.6V408.7M279.5 402.8V404.6M280.5 404.4V405.5M281.5 401.7V404.2M282.5 402.5V405.0M283.5 403.6V404.6M284.5 402.9V403.8M285.5 401.8V408.6M286.5 404.6V406.5M287.5 404.6V406.2M288.5 404.6V408.9M289.5 402.9V403.9M290.5 402.2V403.4M291.5 402.5V405.7M292.5 404.7V411.2M293.5 403.8V411.7M294.5 403.7V413.7M295.5 405.8V412.5M296.5 407.1V410.9M297.5 406.0V409.7M298.5 407.6V416.2M299.5 407.5V417.6M300.5 407.8V409.8M301.5 407.5V417.4M302.5 408.1V419.3M303.5 405.7V408.1M304.5 405.9V411.3M305.5 405.2V408.7M306.5 406.9V415.8M307.5 404.8V410.1M308.5 405.8V414.5M309.5 404.3V413.1M310.5 405.2V406.6M311.5 402.4V408.9M312.5 402.3V409.0M313.5 403.1V409.1M314.5 403.8V405.6M315.5 403.0V409.3M316.5 403.4V408.4M317.5 403.5V406.2M318.5 401.9V403.0M319.5 404.0V408.2M320.5 402.2V409.2M321.5 403.4V407.8M322.5 402.1V407.4M323.5 403.6V407.8M324.5 403.8V409.0M325.5 402.7V404.8M326.5 403.5V408.5M327.5 402.5V409.2M328.5 403.4V407.8M329.5 403.1V405.3M330.5 404.2V408.1M331.5 404.7V408.5M332.5 402.6V409.2M333.5 402.8V405.6M334.5 402.2V407.6M335.5 403.1V409.0M336.5 402.8V407.3M337.5 402.3V408.9M338.5 402.2V407.3M339.5 404.5V408.5M340.5 403.2V409.2M341.5 404.5V408.7M342.5 403.3V409.1M343.5 402.0V408.9M344.5 404.2V407.7M345.5 404.6V405.9M346.5 404.2V405.7M347.5 402.1V403.7M348.5 403.9V407.9M349.5 403.7V407.9M350.5 404.2V409.0M351.5 404.0V406.1M352.5 403.3V408.1M353.5 402.0V406.7M354.5 402.4V408.8M355.5 402.8V408.2M356.5 403.8V407.6M357.5 402.5V404.7M358.5 404.1V405.2M359.5 404.5V406.2M360.5 402.8V408.5M361.5 404.2V408.7M362.5 403.6V408.4M363.5 402.6V408.4M364.5 404.5V405.1M365.5 403.3V408.9M366.5 403.5V404.4M367.5 402.5V407.9M368.5 402.1V407.8M369.5 403.1V408.2M370.5 404.6V408.8M371.5 403.1V407.5M372.5 404.0V407.4M373.5 403.5V408.2M374.5 403.5V404.7M375.5 404.2V408.6M376.5 401.9V408.5M377.5 404.0V408.9M378.5 402.5V407.8M379.5 401.9V406.8M380.5 402.9V408.4M381.5 401.8V409.5M382.5 403.7V409.7M383.5 404.4V408.4M384.5 403.5V408.7M385.5 404.5V410.0M386.5 403.1V404.1M387.5 404.1V413.7M388.5 407.1V410.0M389.5 407.0V414.0M390.5 406.3V416.7M391.5 406.0V416.9M392.5 408.1V410.2M393.5 406.2V417.1M394.5 408.9V418.3M395.5 407.7V416.4M396.5 407.8V415.4M397.5 407.3V413.9M398.5 407.3V414.8M399.5 406.4V413.2M400.5 405.8V411.2M401.5 404.6V410.8M402.5 404.2V406.0M403.5 402.0V408.7M404.5 404.1V405.3M405.5 403.4V408.2M406.5 403.3V408.3M407.5 401.3V402.2M408.5 403.1V405.6M409.5 403.5V404.2M410.5 401.0V408.4M411.5 403.7V407.6M412.5 402.3V404.7M413.5 402.5V406.6M414.5 402.5V406.8M415.5 403.5V404.3M416.5 401.4V406.4M417.5 402.1V407.7M418.5 402.8V407.9M419.5 402.4V404.7M420.5 402.7V406.6M421.5 402.2V404.1M422.5 402.1V408.4M423.5 402.6V403.8M424.5 402.7V408.0M425.5 401.7V407.8M426.5 401.6V406.7M427.5 401.8V406.9M428.5 402.7V404.5M429.5 402.1V402.8M430.5 401.6V406.2M431.5 402.8V408.2M432.5 401.2V402.8M433.5 402.6V407.1M434.5 401.4V406.7M435.5 402.5V407.2M436.5 403.0V407.5M437.5 402.5V406.8M438.5 401.8V408.1M439.5 402.4V406.4M440.5 403.0V407.9M441.5 401.4V402.3M442.5 402.2V403.0M443.5 402.7V407.0M444.5 400.9V406.9M445.5 400.9V407.5M446.5 402.3V403.2M447.5 400.8V405.8M448.5 401.6V407.7M449.5 401.9V408.2M450.5 402.9V408.5M451.5 401.3V406.3M452.5 402.7V408.2M453.5 402.5V408.5M454.5 401.3V407.8M455.5 401.3V408.0M456.5 402.2V407.7M457.5 401.7V402.8M458.5 402.8V408.1M459.5 402.3V406.5M460.5 403.1V408.2M461.5 400.8V408.5M462.5 403.2V408.4M463.5 401.9V407.8M464.5 402.2V405.0M465.5 403.4V404.3M466.5 402.4V407.7M467.5 400.9V402.6M468.5 401.7V404.8M469.5 401.6V406.3M470.5 401.7V406.9M471.5 401.5V406.8M472.5 401.1V402.9M473.5 401.8V406.8M474.5 402.1V407.8M475.5 402.5V403.8M476.5 403.6V404.3M477.5 404.9V406.8M478.5 405.5V413.4M479.5 405.8V407.9M480.5 405.1V408.5M481.5 406.5V410.1M482.5 407.3V415.8M483.5 406.3V411.1M484.5 408.8V410.5M485.5 407.0V420.8M486.5 407.7V419.0M487.5 407.2V420.6M488.5 408.5V419.1M489.5 408.3V419.5M490.5 406.7V417.9M491.5 404.8V413.5M492.5 403.7V408.0M493.5 402.8V410.9M494.5 404.5V406.2M495.5 401.8V403.6M496.5 402.0V403.9M497.5 402.4V407.9M498.5 401.4V408.4M499.5 403.0V408.9M500.5 401.2V408.1M501.5 403.2V407.1M502.5 403.2V407.9M503.5 401.1V406.9M504.5 401.8V407.8M505.5 401.3V407.7M506.5 402.3V408.0M507.5 403.2V405.6M508.5 402.5V406.8M509.5 402.5V407.2M510.5 401.9V408.2M511.5 401.3V408.6M512.5 401.0V403.4M513.5 401.8V407.0M514.5 402.1V406.9M515.5 401.0V408.0M516.5 402.5V408.7M517.5 402.6V408.8M518.5 402.1V406.9M519.5 401.3V402.1M520.5 403.5V408.4M521.5 403.3V407.9M522.5 401.7V408.0M523.5 401.6V407.5M524.5 402.9V404.5M525.5 402.9V408.0M526.5 402.7V407.8M527.5 403.4V408.5M528.5 401.4V407.3M529.5 403.9V407.5M530.5 401.6V408.4M531.5 401.4V404.5M532.5 401.2V402.7M533.5 403.3V407.8M534.5 402.3V407.2M535.5 401.6V407.2M536.5 403.0V408.6M537.5 402.6V404.0M538.5 403.6V408.4M539.5 403.9V408.6" stroke="#aeaeff" stroke-width="1" fill="none" shape-rendering="crispEdges"/>
<path d="M255.5 367.9V405.2M256.5 369.0V403.4M257.5 369.7V403.5M258.5 369.0V404.8M259.5 379.0V404.9M260.5 364.6V402.8M261.5 361.9V404.1M262.5 362.6V404.2M263.5 368.0V403.7M264.5 378.5V403.5M265.5 373.8V403.5M266.5 375.8V404.7M267.5 376.9V404.2M268.5 379.5V403.8M269.5 381.4V403.1M270.5 379.3V403.4M271.5 379.2V403.6M272.5 382.9V404.6M273.5 380.9V403.4M274.5 369.4V404.6M275.5 371.8V405.0M276.5 372.6V402.7M277.5 372.2V403.0M278.5 374.2V404.6M279.5 375.4V403.8M280.5 378.3V405.4M281.5 373.5V402.7M282.5 378.3V403.5M283.5 376.7V404.6M284.5 378.9V403.9M285.5 377.7V402.8M286.5 363.5V405.6M287.5 373.0V405.6M288.5 371.0V405.6M289.5 344.8V403.9M290.5 343.3V403.2M291.5 368.5V403.5M292.5 369.9V405.7M293.5 349.0V404.8M294.5 347.8V404.7M295.5 345.0V406.8M296.5 346.2V408.1M297.5 353.7V407.0M298.5 364.5V408.6M299.5 367.8V408.5M300.5 369.3V408.8M301.5 361.1V408.5M302.5 360.7V409.1M303.5 359.0V406.7M304.5 359.2V406.9M305.5 359.4V406.2M306.5 369.9V407.9M307.5 366.8V405.8M308.5 372.3V406.8M309.5 359.7V405.3M310.5 361.2V406.2M311.5 361.1V403.4M312.5 362.5V403.3M313.5 359.8V404.1M314.5 360.3V404.8M315.5 359.3V404.0M316.5 358.0V404.4M317.5 354.4V404.5M318.5 352.2V402.9M319.5 350.0V405.0M320.5 349.5V403.2M321.5 353.8V404.4M322.5 354.4V403.1M323.5 359.5V404.6M324.5 357.9V404.8M325.5 357.3V403.7M326.5 355.6V404.5M327.5 352.2V403.5M328.5 364.2V404.4M329.5 366.8V404.1M330.5 352.8V405.2M331.5 350.6V405.7M332.5 354.4V403.6M333.5 359.9V403.8M334.5 365.2V403.2M335.5 367.2V404.1M336.5 377.2V403.8M337.5 375.5V403.3M338.5 381.7V403.2M339.5 382.9V405.5M340.5 383.0V404.2M341.5 381.8V405.5M342.5 374.2V404.3M343.5 370.0V403.0M344.5 369.3V405.2M345.5 370.4V405.6M346.5 374.8V405.2M347.5 367.8V403.1M348.5 368.7V404.9M349.5 373.2V404.7M350.5 373.4V405.2M351.5 373.9V405.0M352.5 377.2V404.3M353.5 378.2V403.0M354.5 379.6V403.4M355.5 384.0V403.8M356.5 381.1V404.8M357.5 373.7V403.5M358.5 367.5V405.1M359.5 368.2V405.5M360.5 371.1V403.8M361.5 370.4V405.2M362.5 378.8V404.6M363.5 377.3V403.6M364.5 371.3V405.5M365.5 373.2V404.3M366.5 374.0V404.5M367.5 375.2V403.5M368.5 377.1V403.1M369.5 377.5V404.1M370.5 373.9V405.6M371.5 377.4V404.1M372.5 379.7V405.0M373.5 374.1V404.5M374.5 375.4V404.5M375.5 374.6V405.2M376.5 371.5V402.9M377.5 364.4V405.0M378.5 360.2V403.5M379.5 357.4V402.9M380.5 354.4V403.9M381.5 354.8V402.8M382.5 345.6V404.7M383.5 342.1V405.4M384.5 339.6V404.5M385.5 335.6V405.5M386.5 333.5V404.1M387.5 351.3V405.1M388.5 334.8V408.1M389.5 335.8V408.0M390.5 329.3V407.3M391.5 351.5V407.0M392.5 322.3V409.1M393.5 322.1V407.2M394.5 341.6V409.9M395.5 356.5V408.7M396.5 333.0V408.8M397.5 335.6V408.3M398.5 338.5V408.3M399.5 340.9V407.4M400.5 368.8V406.8M401.5 370.7V405.6M402.5 374.1V405.2M403.5 343.0V403.0M404.5 340.0V405.1M405.5 368.2V404.4M406.5 326.6V404.3M407.5 327.8V402.3M408.5 365.6V404.1M409.5 346.6V404.5M410.5 352.7V402.0M411.5 363.9V404.7M412.5 360.6V403.3M413.5 364.0V403.5M414.5 379.1V403.5M415.5 378.5V404.5M416.5 378.1V402.4M417.5 378.7V403.1M418.5 375.1V403.8M419.5 378.9V403.4M420.5 369.7V403.7M421.5 370.2V403.2M422.5 372.0V403.1M423.5 370.0V403.6M424.5 380.6V403.7M425.5 379.3V402.7M426.5 372.4V402.6M427.5 373.1V402.8M428.5 369.4V403.7M429.5 374.1V403.1M430.5 372.3V402.6M431.5 365.8V403.8M432.5 363.7V402.2M433.5 373.7V403.6M434.5 356.7V402.4M435.5 356.5V403.5M436.5 369.7V404.0M437.5 363.4V403.5M438.5 363.4V402.8M439.5 366.4V403.4M440.5 365.3V404.0M441.5 366.0V402.4M442.5 367.8V403.2M443.5 368.6V403.7M444.5 371.8V401.9M445.5 371.3V401.9M446.5 371.5V403.3M447.5 378.5V401.8M448.5 380.0V402.6M449.5 373.1V402.9M450.5 373.5V403.9M451.5 373.7V402.3M452.5 374.5V403.7M453.5 374.9V403.5M454.5 372.7V402.3M455.5 370.8V402.3M456.5 369.0V403.2M457.5 366.0V402.7M458.5 376.6V403.8M459.5 377.9V403.3M460.5 369.3V404.1M461.5 371.5V401.8M462.5 374.2V404.2M463.5 376.7V402.9M464.5 375.0V403.2M465.5 381.2V404.4M466.5 382.5V403.4M467.5 375.6V401.9M468.5 371.3V402.7M469.5 366.7V402.6M470.5 365.2V402.7M471.5 351.2V402.5M472.5 356.5V402.1M473.5 349.0V402.8M474.5 325.9V403.1M475.5 322.7V403.5M476.5 327.7V404.6M477.5 360.9V405.9M478.5 358.8V406.5M479.5 345.9V406.8M480.5 340.2V406.1M481.5 341.6V407.5M482.5 344.9V408.3M483.5 313.2V407.3M484.5 312.1V409.8M485.5 346.6V408.0M486.5 345.8V408.7M487.5 318.5V408.2M488.5 320.2V409.5M489.5 322.7V409.3M490.5 334.7V407.7M491.5 323.8V405.8M492.5 325.9V404.7M493.5 333.1V403.8M494.5 336.8V405.5M495.5 339.0V402.8M496.5 364.0V403.0M497.5 335.3V403.4M498.5 337.8V402.4M499.5 328.0V404.0M500.5 326.2V402.2M501.5 325.0V404.2M502.5 330.0V404.2M503.5 344.4V402.1M504.5 364.8V402.8M505.5 371.3V402.3M506.5 364.7V403.3M507.5 366.5V404.2M508.5 373.6V403.5M509.5 365.1V403.5M510.5 372.9V402.9M511.5 364.7V402.3M512.5 363.0V402.0M513.5 357.7V402.8M514.5 359.1V403.1M515.5 362.9V402.0M516.5 374.9V403.5M517.5 370.2V403.6M518.5 365.1V403.1M519.5 366.0V402.3M520.5 378.0V404.5M521.5 380.0V404.3M522.5 378.4V402.7M523.5 373.2V402.6M524.5 379.2V403.9M525.5 376.4V403.9M526.5 379.3V403.7M527.5 373.4V404.4M528.5 373.6V402.4M529.5 373.0V404.9M530.5 373.9V402.6M531.5 376.6V402.4M532.5 375.3V402.2M533.5 374.3V404.3M534.5 366.3V403.3M535.5 368.4V402.6M536.5 377.1V404.0M537.5 365.7V403.6M538.5 375.1V404.6M539.5 368.1V404.9" stroke="#9e9eff" stroke-width="1" fill="none" shape-rendering="crispEdges"/>
<path d="M255.5 373.9V405.3M256.5 374.9V403.5M257.5 375.6V403.7M258.5 376.6V404.9M259.5 381.2V405.1M260.5 379.1V403.0M261.5 378.8V404.3M262.5 373.0V404.4M263.5 377.9V403.9M264.5 380.1V403.7M265.5 381.4V403.7M266.5 382.1V404.8M267.5 383.2V404.4M268.5 380.0V404.0M269.5 382.0V403.3M270.5 380.9V403.6M271.5 379.4V403.8M272.5 383.8V404.8M273.5 381.3V403.6M274.5 379.1V404.8M275.5 379.5V405.2M276.5 379.8V402.9M277.5 376.9V403.2M278.5 379.0V404.8M279.5 379.9V404.0M280.5 379.7V405.5M281.5 379.6V402.8M282.5 381.5V403.7M283.5 379.3V404.7M284.5 379.5V404.1M285.5 379.2V403.0M286.5 374.9V405.8M287.5 375.7V405.8M288.5 372.2V405.8M289.5 370.1V404.0M290.5 368.7V403.4M291.5 372.3V403.7M292.5 377.7V405.9M293.5 375.9V404.9M294.5 375.3V404.9M295.5 368.3V407.0M296.5 368.6V408.3M297.5 365.7V407.2M298.5 366.4V408.8M299.5 371.4V408.7M300.5 373.1V409.0M301.5 369.6V408.7M302.5 368.9V409.3M303.5 368.6V406.8M304.5 367.9V407.1M305.5 371.6V406.4M306.5 372.3V408.0M307.5 368.4V406.0M308.5 376.2V407.0M309.5 376.6V405.5M310.5 376.8V406.4M311.5 379.2V403.6M312.5 371.4V403.4M313.5 371.2V404.2M314.5 372.5V404.9M315.5 373.6V404.2M316.5 374.8V404.5M317.5 373.8V404.7M318.5 375.4V403.0M319.5 374.1V405.2M320.5 374.8V403.4M321.5 373.2V404.6M322.5 372.9V403.3M323.5 373.6V404.7M324.5 370.6V404.9M325.5 371.0V403.9M326.5 370.6V404.7M327.5 370.9V403.7M328.5 369.6V404.6M329.5 370.9V404.3M330.5 369.6V405.4M331.5 371.5V405.8M332.5 370.0V403.8M333.5 369.1V404.0M334.5 378.0V403.4M335.5 380.3V404.3M336.5 378.6V403.9M337.5 381.3V403.5M338.5 383.1V403.4M339.5 383.8V405.7M340.5 384.1V404.4M341.5 382.1V405.7M342.5 374.2V404.5M343.5 371.4V403.2M344.5 369.4V405.3M345.5 370.6V405.7M346.5 378.5V405.4M347.5 376.9V403.3M348.5 374.9V405.1M349.5 374.7V404.9M350.5 374.7V405.4M351.5 375.5V405.2M352.5 378.4V404.5M353.5 383.1V403.2M354.5 383.8V403.6M355.5 384.3V403.9M356.5 382.2V405.0M357.5 376.2V403.7M358.5 373.9V405.2M359.5 380.9V405.6M360.5 381.0V404.0M361.5 380.2V405.4M362.5 381.6V404.8M363.5 379.9V403.7M364.5 374.4V405.6M365.5 377.0V404.5M366.5 383.3V404.7M367.5 378.4V403.7M368.5 378.8V403.3M369.5 379.2V404.3M370.5 377.1V405.8M371.5 379.6V404.2M372.5 382.8V405.1M373.5 378.4V404.7M374.5 383.3V404.7M375.5 376.5V405.4M376.5 374.5V403.1M377.5 379.2V405.2M378.5 374.9V403.7M379.5 372.3V403.1M380.5 370.4V404.1M381.5 369.1V403.0M382.5 366.6V404.9M383.5 364.3V405.6M384.5 354.1V404.7M385.5 353.3V405.6M386.5 353.3V404.3M387.5 353.2V405.3M388.5 354.1V408.3M389.5 359.2V408.1M390.5 360.3V407.4M391.5 358.9V407.2M392.5 358.6V409.3M393.5 349.8V407.4M394.5 346.4V410.1M395.5 361.6V408.9M396.5 350.0V409.0M397.5 352.1V408.5M398.5 362.6V408.5M399.5 364.0V407.5M400.5 374.9V407.0M401.5 372.2V405.8M402.5 375.0V405.4M403.5 364.9V403.1M404.5 365.5V405.3M405.5 374.5V404.6M406.5 369.2V404.5M407.5 369.5V402.5M408.5 371.1V404.3M409.5 373.1V404.7M410.5 367.4V402.2M411.5 367.0V404.8M412.5 370.5V403.4M413.5 374.9V403.7M414.5 379.7V403.6M415.5 380.0V404.6M416.5 382.3V402.6M417.5 382.3V403.3M418.5 375.6V404.0M419.5 379.7V403.6M420.5 377.4V403.9M421.5 377.7V403.4M422.5 379.2V403.3M423.5 380.1V403.8M424.5 382.3V403.9M425.5 380.9V402.9M426.5 381.0V402.8M427.5 381.4V402.9M428.5 379.6V403.9M429.5 377.0V403.3M430.5 375.0V402.8M431.5 373.0V404.0M432.5 371.8V402.4M433.5 379.2V403.8M434.5 378.3V402.6M435.5 378.4V403.7M436.5 375.0V404.1M437.5 375.6V403.7M438.5 375.1V402.9M439.5 375.9V403.6M440.5 376.3V404.2M441.5 370.7V402.6M442.5 372.9V403.3M443.5 380.6V403.9M444.5 380.0V402.1M445.5 375.3V402.1M446.5 375.7V403.5M447.5 380.3V401.9M448.5 381.1V402.8M449.5 378.5V403.1M450.5 382.5V404.1M451.5 383.4V402.5M452.5 383.6V403.9M453.5 383.3V403.6M454.5 383.2V402.5M455.5 376.1V402.5M456.5 377.5V403.3M457.5 378.0V402.9M458.5 377.2V404.0M459.5 380.0V403.5M460.5 376.7V404.3M461.5 377.8V402.0M462.5 379.0V404.4M463.5 383.0V403.1M464.5 381.8V403.4M465.5 382.0V404.6M466.5 383.0V403.6M467.5 380.4V402.0M468.5 382.4V402.9M469.5 379.7V402.7M470.5 369.7V402.8M471.5 366.3V402.7M472.5 360.9V402.3M473.5 352.8V403.0M474.5 348.3V403.3M475.5 357.7V403.7M476.5 367.5V404.8M477.5 367.4V406.1M478.5 367.2V406.7M479.5 350.1V407.0M480.5 344.4V406.3M481.5 351.5V407.7M482.5 357.7V408.5M483.5 357.5V407.5M484.5 360.9V410.0M485.5 353.4V408.1M486.5 351.9V408.9M487.5 337.1V408.4M488.5 338.3V409.6M489.5 338.5V409.4M490.5 340.1V407.9M491.5 338.7V406.0M492.5 348.2V404.9M493.5 356.8V404.0M494.5 361.8V405.7M495.5 359.9V403.0M496.5 369.0V403.2M497.5 366.5V403.6M498.5 365.9V402.6M499.5 363.9V404.2M500.5 364.0V402.4M501.5 374.5V404.3M502.5 374.9V404.4M503.5 365.8V402.3M504.5 367.5V403.0M505.5 373.0V402.5M506.5 373.8V403.5M507.5 375.2V404.4M508.5 379.5V403.7M509.5 380.6V403.7M510.5 374.9V403.1M511.5 375.1V402.5M512.5 373.9V402.2M513.5 367.8V402.9M514.5 375.5V403.3M515.5 377.4V402.2M516.5 375.0V403.6M517.5 373.7V403.8M518.5 372.7V403.3M519.5 378.9V402.5M520.5 379.8V404.7M521.5 382.2V404.5M522.5 379.5V402.9M523.5 377.2V402.8M524.5 380.8V404.1M525.5 383.4V404.1M526.5 382.2V403.8M527.5 380.9V404.6M528.5 382.5V402.6M529.5 381.6V405.0M530.5 376.2V402.7M531.5 377.1V402.5M532.5 376.3V402.4M533.5 375.3V404.5M534.5 377.5V403.5M535.5 378.6V402.8M536.5 377.9V404.2M537.5 374.5V403.8M538.5 378.0V404.8M539.5 379.7V405.0" stroke="#3a3aff" stroke-width="1" fill="none" shape-rendering="crispEdges"/>
<path d="M255.5 376.8V404.2M256.5 375.0V402.4M257.5 377.1V402.5M258.5 378.2V403.8M259.5 385.3V403.9M260.5 382.2V401.8M261.5 378.8V403.1M262.5 373.2V403.2M263.5 381.0V402.7M264.5 380.6V402.5M265.5 382.0V402.5M266.5 384.0V403.7M267.5 385.5V403.2M268.5 382.7V402.8M269.5 382.0V402.1M270.5 382.3V402.4M271.5 381.0V402.6M272.5 385.5V403.6M273.5 382.9V402.4M274.5 380.6V403.6M275.5 384.6V404.0M276.5 381.6V401.7M277.5 378.9V402.0M278.5 382.4V403.6M279.5 381.7V402.8M280.5 381.3V404.4M281.5 384.6V401.7M282.5 382.5V402.5M283.5 380.6V403.6M284.5 379.6V402.9M285.5 379.2V401.8M286.5 377.0V404.6M287.5 376.6V404.6M288.5 380.9V404.6M289.5 372.1V402.9M290.5 371.8V402.2M291.5 373.7V402.5M292.5 381.3V404.7M293.5 377.6V403.8M294.5 376.9V403.7M295.5 373.7V405.8M296.5 373.3V407.1M297.5 367.7V406.0M298.5 370.7V407.6M299.5 374.6V407.5M300.5 373.5V407.8M301.5 370.9V407.5M302.5 371.7V408.1M303.5 376.1V405.7M304.5 373.3V405.9M305.5 378.9V405.2M306.5 372.6V406.9M307.5 373.9V404.8M308.5 380.9V405.8M309.5 377.9V404.3M310.5 378.9V405.2M311.5 380.8V402.4M312.5 374.4V402.3M313.5 376.7V403.1M314.5 372.7V403.8M315.5 376.9V403.0M316.5 380.2V403.4M317.5 373.8V403.5M318.5 377.9V401.9M319.5 381.3V404.0M320.5 375.0V402.2M321.5 376.6V403.4M322.5 379.4V402.1M323.5 379.0V403.6M324.5 375.8V403.8M325.5 373.5V402.7M326.5 373.3V403.5M327.5 377.5V402.5M328.5 372.4V403.4M329.5 374.2V403.1M330.5 371.5V404.2M331.5 378.4V404.7M332.5 373.5V402.6M333.5 376.8V402.8M334.5 379.2V402.2M335.5 380.3V403.1M336.5 380.3V402.8M337.5 383.6V402.3M338.5 383.7V402.2M339.5 383.8V404.5M340.5 385.9V403.2M341.5 384.1V404.5M342.5 375.4V403.3M343.5 377.5V402.0M344.5 375.2V404.2M345.5 375.4V404.6M346.5 380.0V404.2M347.5 380.6V402.1M348.5 377.3V403.9M349.5 381.3V403.7M350.5 381.1V404.2M351.5 375.5V404.0M352.5 380.6V403.3M353.5 383.4V402.0M354.5 384.4V402.4M355.5 384.3V402.8M356.5 383.7V403.8M357.5 379.0V402.5M358.5 376.1V404.1M359.5 382.9V404.5M360.5 382.3V402.8M361.5 381.6V404.2M362.5 384.3V403.6M363.5 380.4V402.6M364.5 377.4V404.5M365.5 379.4V403.3M366.5 385.7V403.5M367.5 378.5V402.5M368.5 381.2V402.1M369.5 381.6V403.1M370.5 380.8V404.6M371.5 382.5V403.1M372.5 382.8V404.0M373.5 379.0V403.5M374.5 383.7V403.5M375.5 379.1V404.2M376.5 376.2V401.9M377.5 382.4V404.0M378.5 380.1V402.5M379.5 373.3V401.9M380.5 375.4V402.9M381.5 375.5V401.8M382.5 366.7V403.7M383.5 370.2V404.4M384.5 356.4V403.5M385.5 363.7V404.5M386.5 362.7V403.1M387.5 354.7V404.1M388.5 366.5V407.1M389.5 365.1V407.0M390.5 365.6V406.3M391.5 370.5V406.0M392.5 367.3V408.1M393.5 357.6V406.2M394.5 355.6V408.9M395.5 370.1V407.7M396.5 363.3V407.8M397.5 365.0V407.3M398.5 365.9V407.3M399.5 364.0V406.4M400.5 375.4V405.8M401.5 376.6V404.6M402.5 377.1V404.2M403.5 375.1V402.0M404.5 375.6V404.1M405.5 378.9V403.4M406.5 373.2V403.3M407.5 370.9V401.3M408.5 377.6V403.1M409.5 377.2V403.5M410.5 372.8V401.0M411.5 371.7V403.7M412.5 374.6V402.3M413.5 376.7V402.5M414.5 381.5V402.5M415.5 383.6V403.5M416.5 384.3V401.4M417.5 382.5V402.1M418.5 376.4V402.8M419.5 382.2V402.4M420.5 383.0V402.7M421.5 377.7V402.2M422.5 379.8V402.1M423.5 381.7V402.6M424.5 382.3V402.7M425.5 381.8V401.7M426.5 381.4V401.6M427.5 383.2V401.8M428.5 382.1V402.7M429.5 380.7V402.1M430.5 375.0V401.6M431.5 377.5V402.8M432.5 376.4V401.2M433.5 382.3V402.6M434.5 382.0V401.4M435.5 380.4V402.5M436.5 375.3V403.0M437.5 378.3V402.5M438.5 375.6V401.8M439.5 378.4V402.4M440.5 377.7V403.0M441.5 374.0V401.4M442.5 379.6V402.2M443.5 380.8V402.7M444.5 382.4V400.9M445.5 379.5V400.9M446.5 379.2V402.3M447.5 383.9V400.8M448.5 382.8V401.6M449.5 381.2V401.9M450.5 382.5V402.9M451.5 383.5V401.3M452.5 384.6V402.7M453.5 383.9V402.5M454.5 383.2V401.3M455.5 379.8V401.3M456.5 381.5V402.2M457.5 381.1V401.7M458.5 380.7V402.8M459.5 380.0V402.3M460.5 381.2V403.1M461.5 379.6V400.8M462.5 382.2V403.2M463.5 383.6V401.9M464.5 383.1V402.2M465.5 385.5V403.4M466.5 386.1V402.4M467.5 380.4V400.9M468.5 382.4V401.7M469.5 381.2V401.6M470.5 371.5V401.7M471.5 374.4V401.5M472.5 369.3V401.1M473.5 363.2V401.8M474.5 362.0V402.1M475.5 366.0V402.5M476.5 367.7V403.6M477.5 374.1V404.9M478.5 367.4V405.5M479.5 361.8V405.8M480.5 346.6V405.1M481.5 361.0V406.5M482.5 364.7V407.3M483.5 364.0V406.3M484.5 364.3V408.8M485.5 355.1V407.0M486.5 354.4V407.7M487.5 340.8V407.2M488.5 361.6V408.5M489.5 359.0V408.3M490.5 350.9V406.7M491.5 341.5V404.8M492.5 351.8V403.7M493.5 362.8V402.8M494.5 365.1V404.5M495.5 369.8V401.8M496.5 371.2V402.0M497.5 370.4V402.4M498.5 369.4V401.4M499.5 371.2V403.0M500.5 367.7V401.2M501.5 376.8V403.2M502.5 376.8V403.2M503.5 374.5V401.1M504.5 372.8V401.8M505.5 377.8V401.3M506.5 375.8V402.3M507.5 380.4V403.2M508.5 379.5V402.5M509.5 383.9V402.5M510.5 374.9V401.9M511.5 377.2V401.3M512.5 378.3V401.0M513.5 377.9V401.8M514.5 377.9V402.1M515.5 379.0V401.0M516.5 377.9V402.5M517.5 375.4V402.6M518.5 376.4V402.1M519.5 380.8V401.3M520.5 380.8V403.5M521.5 383.6V403.3M522.5 380.8V401.7M523.5 380.0V401.6M524.5 384.0V402.9M525.5 385.7V402.9M526.5 383.2V402.7M527.5 380.9V403.4M528.5 382.5V401.4M529.5 385.3V403.9M530.5 379.4V401.6M531.5 380.0V401.4M532.5 378.2V401.2M533.5 375.5V403.3M534.5 382.3V402.3M535.5 381.3V401.6M536.5 383.3V403.0M537.5 375.5V402.6M538.5 378.0V403.6M539.5 380.1V403.9" stroke="#0000ff" stroke-width="1" fill="none" shape-rendering="crispEdges"/>
<path d="M254.3 364.4H540.9" stroke="#ff0000" stroke-width="1.7"/>
<path d="M254.3 411.5H540.9" stroke="#ff00ff" stroke-width="1.7" stroke-dasharray="4.3 1.8 0.8 1.83" stroke-dashoffset="0.73"/>
<rect x="254.3" y="240.9" width="286.59999999999997" height="182.9" fill="none" stroke="#737373" stroke-width="1"/>
<path d="M254.3 423.8h2.5M540.9 423.8h-2.5" stroke="#737373" stroke-width="1"/>
<text x="251.9" y="428.0" text-anchor="end" font-size="12" font-family="'Liberation Serif', 'Times New Roman', serif" font-weight="bold">0</text>
<path d="M254.3 376.7h2.5M540.9 376.7h-2.5" stroke="#737373" stroke-width="1"/>
<text x="251.9" y="380.9" text-anchor="end" font-size="12" font-family="'Liberation Serif', 'Times New Roman', serif" font-weight="bold">0.04</text>
<path d="M254.3 329.6h2.5M540.9 329.6h-2.5" stroke="#737373" stroke-width="1"/>
<text x="251.9" y="333.8" text-anchor="end" font-size="12" font-family="'Liberation Serif', 'Times New Roman', serif" font-weight="bold">0.08</text>
<path d="M254.3 282.6h2.5M540.9 282.6h-2.5" stroke="#737373" stroke-width="1"/>
<text x="251.9" y="286.8" text-anchor="end" font-size="12" font-family="'Liberation Serif', 'Times New Roman', serif" font-weight="bold">0.12</text>
<path d="M284.9 423.8v-2.5M284.9 240.9v2.5" stroke="#737373" stroke-width="1"/>
<text x="284.9" y="436.4" text-anchor="middle" font-size="12" font-family="'Liberation Serif', 'Times New Roman', serif" font-weight="bold">5000</text>
<path d="M346.1 423.8v-2.5M346.1 240.9v2.5" stroke="#737373" stroke-width="1"/>
<text x="346.1" y="436.4" text-anchor="middle" font-size="12" font-family="'Liberation Serif', 'Times New Roman', serif" font-weight="bold">15000</text>
<path d="M407.3 423.8v-2.5M407.3 240.9v2.5" stroke="#737373" stroke-width="1"/>
<text x="407.3" y="436.4" text-anchor="middle" font-size="12" font-family="'Liberation Serif', 'Times New Roman', serif" font-weight="bold">25000</text>
<path d="M468.4 423.8v-2.5M468.4 240.9v2.5" stroke="#737373" stroke-width="1"/>
<text x="468.4" y="436.4" text-anchor="middle" font-size="12" font-family="'Liberation Serif', 'Times New Roman', serif" font-weight="bold">35000</text>
<path d="M529.6 423.8v-2.5M529.6 240.9v2.5" stroke="#737373" stroke-width="1"/>
<text x="529.6" y="436.4" text-anchor="middle" font-size="12" font-family="'Liberation Serif', 'Times New Roman', serif" font-weight="bold">45000</text>
<rect x="475.5" y="244.5" width="61.10000000000002" height="55.60000000000002" fill="#fff" stroke="#626262" stroke-width="1"/>
<path d="M478.8 254.6H499.8" stroke="#9a9aff" stroke-width="1"/>
<text x="501.7" y="258.9" font-size="12" font-family="'Liberation Serif', 'Times New Roman', serif" font-weight="bold">h</text>
<path d="M478.8 272.3H499.8" stroke="#ff0000" stroke-width="1.7"/>
<text x="501.7" y="276.6" font-size="12" font-family="'Liberation Serif', 'Times New Roman', serif" font-weight="bold">hmax</text>
<path d="M478.8 289.5H499.8" stroke="#ff00ff" stroke-width="1.7" stroke-dasharray="4.3 1.8 0.8 1.83"/>
<text x="501.7" y="293.8" font-size="12" font-family="'Liberation Serif', 'Times New Roman', serif" font-weight="bold">hmin</text>
<text x="399.3" y="452.6" text-anchor="middle" font-size="12.4" font-family="'Liberation Serif', 'Times New Roman', serif" font-weight="bold">Pixel of sonar image</text>
<text transform="translate(215.7 332.6) rotate(-90)" text-anchor="middle" font-size="12" font-family="'Liberation Serif', 'Times New Roman', serif" font-weight="bold">h</text>
<text x="98.3" y="234.8" text-anchor="middle" font-size="14" font-family="'Liberation Serif', 'Times New Roman', serif">(a)</text>
<text x="375.6" y="234.8" text-anchor="middle" font-size="14" font-family="'Liberation Serif', 'Times New Roman', serif">(b)</text>
<text x="98.2" y="470.8" text-anchor="middle" font-size="14" font-family="'Liberation Serif', 'Times New Roman', serif">(c)</text>
<text x="375.7" y="470.6" text-anchor="middle" font-size="14" font-family="'Liberation Serif', 'Times New Roman', serif">(d)</text>
</svg>
</body></html>
